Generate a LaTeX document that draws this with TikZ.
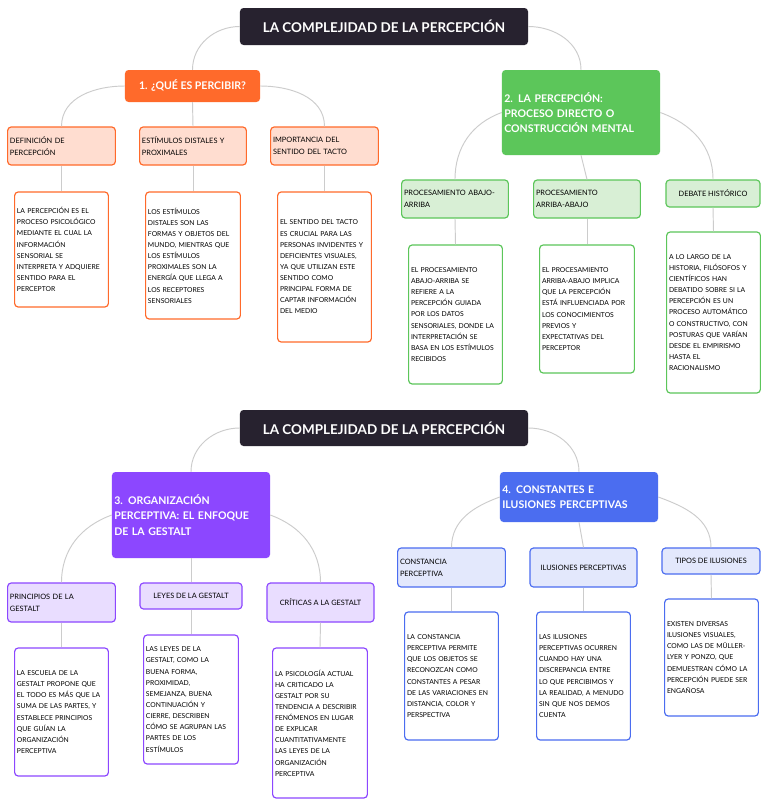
\documentclass[tikz,border=0pt]{standalone}
\usepackage{fontspec}
\setmainfont{Lato}
\usetikzlibrary{positioning,calc}
\definecolor{darkbg}{HTML}{27222F}
\definecolor{orng}{HTML}{FF6A2B}
\definecolor{orngl}{HTML}{FFDDD0}
\definecolor{grn}{HTML}{5CC65A}
\definecolor{grnl}{HTML}{D8EFD5}
\definecolor{purp}{HTML}{8C47FF}
\definecolor{purpl}{HTML}{E9DDFF}
\definecolor{blu}{HTML}{4B6DF0}
\definecolor{blul}{HTML}{E3E8FC}
\definecolor{linkgray}{HTML}{CCCCCC}
\tikzset{
  title/.style={fill=darkbg, text=white, rounded corners=3pt, font=\bfseries\fontsize{11.5}{14}\selectfont, inner sep=0pt},
  sec/.style={fill=#1, text=white, rounded corners=3pt, font=\bfseries\fontsize{9}{13}\selectfont, align=left, inner sep=2pt},
  sub/.style 2 args={draw=#1, fill=#2, line width=1pt, rounded corners=3pt, font=\fontsize{6.3}{10.5}\selectfont, align=left, inner sep=2pt},
  body/.style={draw=#1, fill=white, line width=1pt, rounded corners=3pt, font=\fontsize{5.8}{9.5}\selectfont, align=left, inner sep=2pt},
  link/.style={draw=linkgray, line width=0.8pt}
}
\begin{document}
\begin{tikzpicture}[x=0.03cm, y=-0.03cm]
    \useasboundingbox[fill=white] (0,0) rectangle (768,808);
    % Top map
    \node[title, minimum width=8.64cm, minimum height=1.11cm] (t1) at (384,26.5) {LA COMPLEJIDAD DE LA PERCEPCIÓN};
    \node[sec=orng, minimum width=4.05cm, minimum height=0.96cm] (s1) at (192.5,86) {1. ¿QUÉ ES PERCIBIR?};
    \node[sec=grn, text width=4.6cm, minimum height=2.55cm] (s2) at (581,112.5) {2. LA PERCEPCIÓN:\\PROCESO DIRECTO O\\CONSTRUCCIÓN MENTAL};
    % Section 1
    \node[sub={orng}{orngl}, text width=3.09cm, minimum height=1.14cm] (a1) at (61.5,146) {DEFINICIÓN DE\\PERCEPCIÓN};
    \node[sub={orng}{orngl}, text width=3.06cm, minimum height=1.14cm] (a2) at (193,146) {ESTÍMULOS DISTALES Y\\PROXIMALES};
    \node[sub={orng}{orngl}, text width=3.09cm, minimum height=1.14cm] (a3) at (324.5,146) {IMPORTANCIA DEL\\SENTIDO DEL TACTO};
    \node[body=orng, text width=2.67cm, minimum height=3.45cm] (b1) at (61.5,249.5) {LA PERCEPCIÓN ES EL\\PROCESO PSICOLÓGICO\\MEDIANTE EL CUAL LA\\INFORMACIÓN\\SENSORIAL SE\\INTERPRETA Y ADQUIERE\\SENTIDO PARA EL\\PERCEPTOR};
    \node[body=orng, text width=2.7cm, minimum height=3.81cm] (b2) at (193,255.5) {LOS ESTÍMULOS\\DISTALES SON LAS\\FORMAS Y OBJETOS DEL\\MUNDO, MIENTRAS QUE\\LOS ESTÍMULOS\\PROXIMALES SON LA\\ENERGÍA QUE LLEGA A\\LOS RECEPTORES\\SENSORIALES};
    \node[body=orng, text width=2.67cm, minimum height=4.5cm] (b3) at (324.5,267) {EL SENTIDO DEL TACTO\\ES CRUCIAL PARA LAS\\PERSONAS INVIDENTES Y\\DEFICIENTES VISUALES,\\YA QUE UTILIZAN ESTE\\SENTIDO COMO\\PRINCIPAL FORMA DE\\CAPTAR INFORMACIÓN\\DEL MEDIO};
    % Section 2
    \node[sub={grn}{grnl}, text width=3.06cm, minimum height=1.14cm] (c1) at (455,199) {PROCESAMIENTO ABAJO-\\ARRIBA};
    \node[sub={grn}{grnl}, text width=3.06cm, minimum height=1.14cm] (c2) at (587,199) {PROCESAMIENTO\\ARRIBA-ABAJO};
    \node[sub={grn}{grnl}, minimum width=2.82cm, minimum height=0.81cm] (c3) at (713,193.5) {DEBATE HISTÓRICO};
    \node[body=grn, text width=2.67cm, minimum height=4.17cm] (d1) at (455.5,314.5) {EL PROCESAMIENTO\\ABAJO-ARRIBA SE\\REFIERE A LA\\PERCEPCIÓN GUIADA\\POR LOS DATOS\\SENSORIALES, DONDE LA\\INTERPRETACIÓN SE\\BASA EN LOS ESTÍMULOS\\RECIBIDOS};
    \node[body=grn, text width=2.7cm, minimum height=3.84cm] (d2) at (587,309) {EL PROCESAMIENTO\\ARRIBA-ABAJO IMPLICA\\QUE LA PERCEPCIÓN\\ESTÁ INFLUENCIADA POR\\LOS CONOCIMIENTOS\\PREVIOS Y\\EXPECTATIVAS DEL\\PERCEPTOR};
    \node[body=grn, text width=2.67cm, minimum height=4.83cm] (d3) at (713.5,312.5) {A LO LARGO DE LA\\HISTORIA, FILÓSOFOS Y\\CIENTÍFICOS HAN\\DEBATIDO SOBRE SI LA\\PERCEPCIÓN ES UN\\PROCESO AUTOMÁTICO\\O CONSTRUCTIVO, CON\\POSTURAS QUE VARÍAN\\DESDE EL EMPIRISMO\\HASTA EL\\RACIONALISMO};
    % Bottom map
    \node[title, minimum width=8.64cm, minimum height=1.08cm] (t2) at (384,428) {LA COMPLEJIDAD DE LA PERCEPCIÓN};
    \node[sec=purp, text width=4.6cm, minimum height=2.58cm] (s3) at (191,515) {3. ORGANIZACIÓN\\PERCEPTIVA: EL ENFOQUE\\DE LA GESTALT};
    \node[sec=blu, text width=4.6cm, minimum height=1.5cm] (s4) at (579,497) {4. CONSTANTES E\\ILUSIONES PERCEPTIVAS};
    % Section 3
    \node[sub={purp}{purpl}, text width=3.09cm, minimum height=1.17cm] (e1) at (61.5,602.5) {PRINCIPIOS DE LA\\GESTALT};
    \node[sub={purp}{purpl}, minimum width=3.06cm, minimum height=0.78cm] (e2) at (191,596) {LEYES DE LA GESTALT};
    \node[sub={purp}{purpl}, minimum width=3.21cm, minimum height=1.17cm] (e3) at (320.5,602.5) {CRÍTICAS A LA GESTALT};
    \node[body=purp, text width=2.67cm, minimum height=3.84cm] (f1) at (61.5,712) {LA ESCUELA DE LA\\GESTALT PROPONE QUE\\EL TODO ES MÁS QUE LA\\SUMA DE LAS PARTES, Y\\ESTABLECE PRINCIPIOS\\QUE GUÍAN LA\\ORGANIZACIÓN\\PERCEPTIVA};
    \node[body=purp, text width=2.7cm, minimum height=3.87cm] (f2) at (191,699.5) {LAS LEYES DE LA\\GESTALT, COMO LA\\BUENA FORMA,\\PROXIMIDAD,\\SEMEJANZA, BUENA\\CONTINUACIÓN Y\\CIERRE, DESCRIBEN\\CÓMO SE AGRUPAN LAS\\PARTES DE LOS\\ESTÍMULOS};
    \node[body=purp, text width=2.7cm, minimum height=4.5cm] (f3) at (320,723) {LA PSICOLOGÍA ACTUAL\\HA CRITICADO LA\\GESTALT POR SU\\TENDENCIA A DESCRIBIR\\FENÓMENOS EN LUGAR\\DE EXPLICAR\\CUANTITATIVAMENTE\\LAS LEYES DE LA\\ORGANIZACIÓN\\PERCEPTIVA};
    % Section 4
    \node[sub={blu}{blul}, text width=3.09cm, minimum height=1.17cm] (g1) at (451.5,567.5) {CONSTANCIA\\PERCEPTIVA};
    \node[sub={blu}{blul}, minimum width=3.21cm, minimum height=1.17cm] (g2) at (583.5,567.5) {ILUSIONES PERCEPTIVAS};
    \node[sub={blu}{blul}, minimum width=2.94cm, minimum height=0.78cm] (g3) at (711,561) {TIPOS DE ILUSIONES};
    \node[body=blu, text width=2.67cm, minimum height=3.84cm] (h1) at (451.5,676) {LA CONSTANCIA\\PERCEPTIVA PERMITE\\QUE LOS OBJETOS SE\\RECONOZCAN COMO\\CONSTANTES A PESAR\\DE LAS VARIACIONES EN\\DISTANCIA, COLOR Y\\PERSPECTIVA};
    \node[body=blu, text width=2.67cm, minimum height=3.84cm] (h2) at (583.5,676) {LAS ILUSIONES\\PERCEPTIVAS OCURREN\\CUANDO HAY UNA\\DISCREPANCIA ENTRE\\LO QUE PERCIBIMOS Y\\LA REALIDAD, A MENUDO\\SIN QUE NOS DEMOS\\CUENTA};
    \node[body=blu, text width=2.67cm, minimum height=3.51cm] (h3) at (711.5,657.5) {EXISTEN DIVERSAS\\ILUSIONES VISUALES,\\COMO LAS DE MÜLLER-\\LYER Y PONZO, QUE\\DEMUESTRAN CÓMO LA\\PERCEPCIÓN PUEDE SER\\ENGAÑOSA};
    % Connectors
    \begin{scope}[on background layer/.try]
    \draw[link] (t1.west) to[out=180,in=90] (s1.north);
    \draw[link] (t1.east) to[out=0,in=90] (s2.north);
    \draw[link] (t2.west) to[out=180,in=90] (s3.north);
    \draw[link] (t2.east) to[out=0,in=90] (s4.north);
    \end{scope}
    \draw[link] (s1.west) to[out=180,in=90] (a1.north);
    \draw[link] (s1.south) -- (a2.north);
    \draw[link] (s1.east) to[out=0,in=90] (a3.north);
    \draw[link] (s2.west) to[out=200,in=90] (c1.north);
    \draw[link] (s2.south) -- (c2.north);
    \draw[link] (s2.east) to[out=-20,in=90] (c3.north);
    \draw[link] (s3.west) to[out=200,in=90] (e1.north);
    \draw[link] (s3.south) -- (e2.north);
    \draw[link] (s3.east) to[out=-20,in=90] (e3.north);
    \draw[link] (s4.west) to[out=200,in=90] (g1.north);
    \draw[link] (s4.south) -- (g2.north);
    \draw[link] (s4.east) to[out=-20,in=90] (g3.north);
    \foreach \u/\v in {a1/b1,a2/b2,a3/b3,c1/d1,c2/d2,c3/d3,e1/f1,e2/f2,e3/f3,g1/h1,g2/h2,g3/h3}
        \draw[link] (\u.south) -- (\v.north);
\end{tikzpicture}
\end{document}
